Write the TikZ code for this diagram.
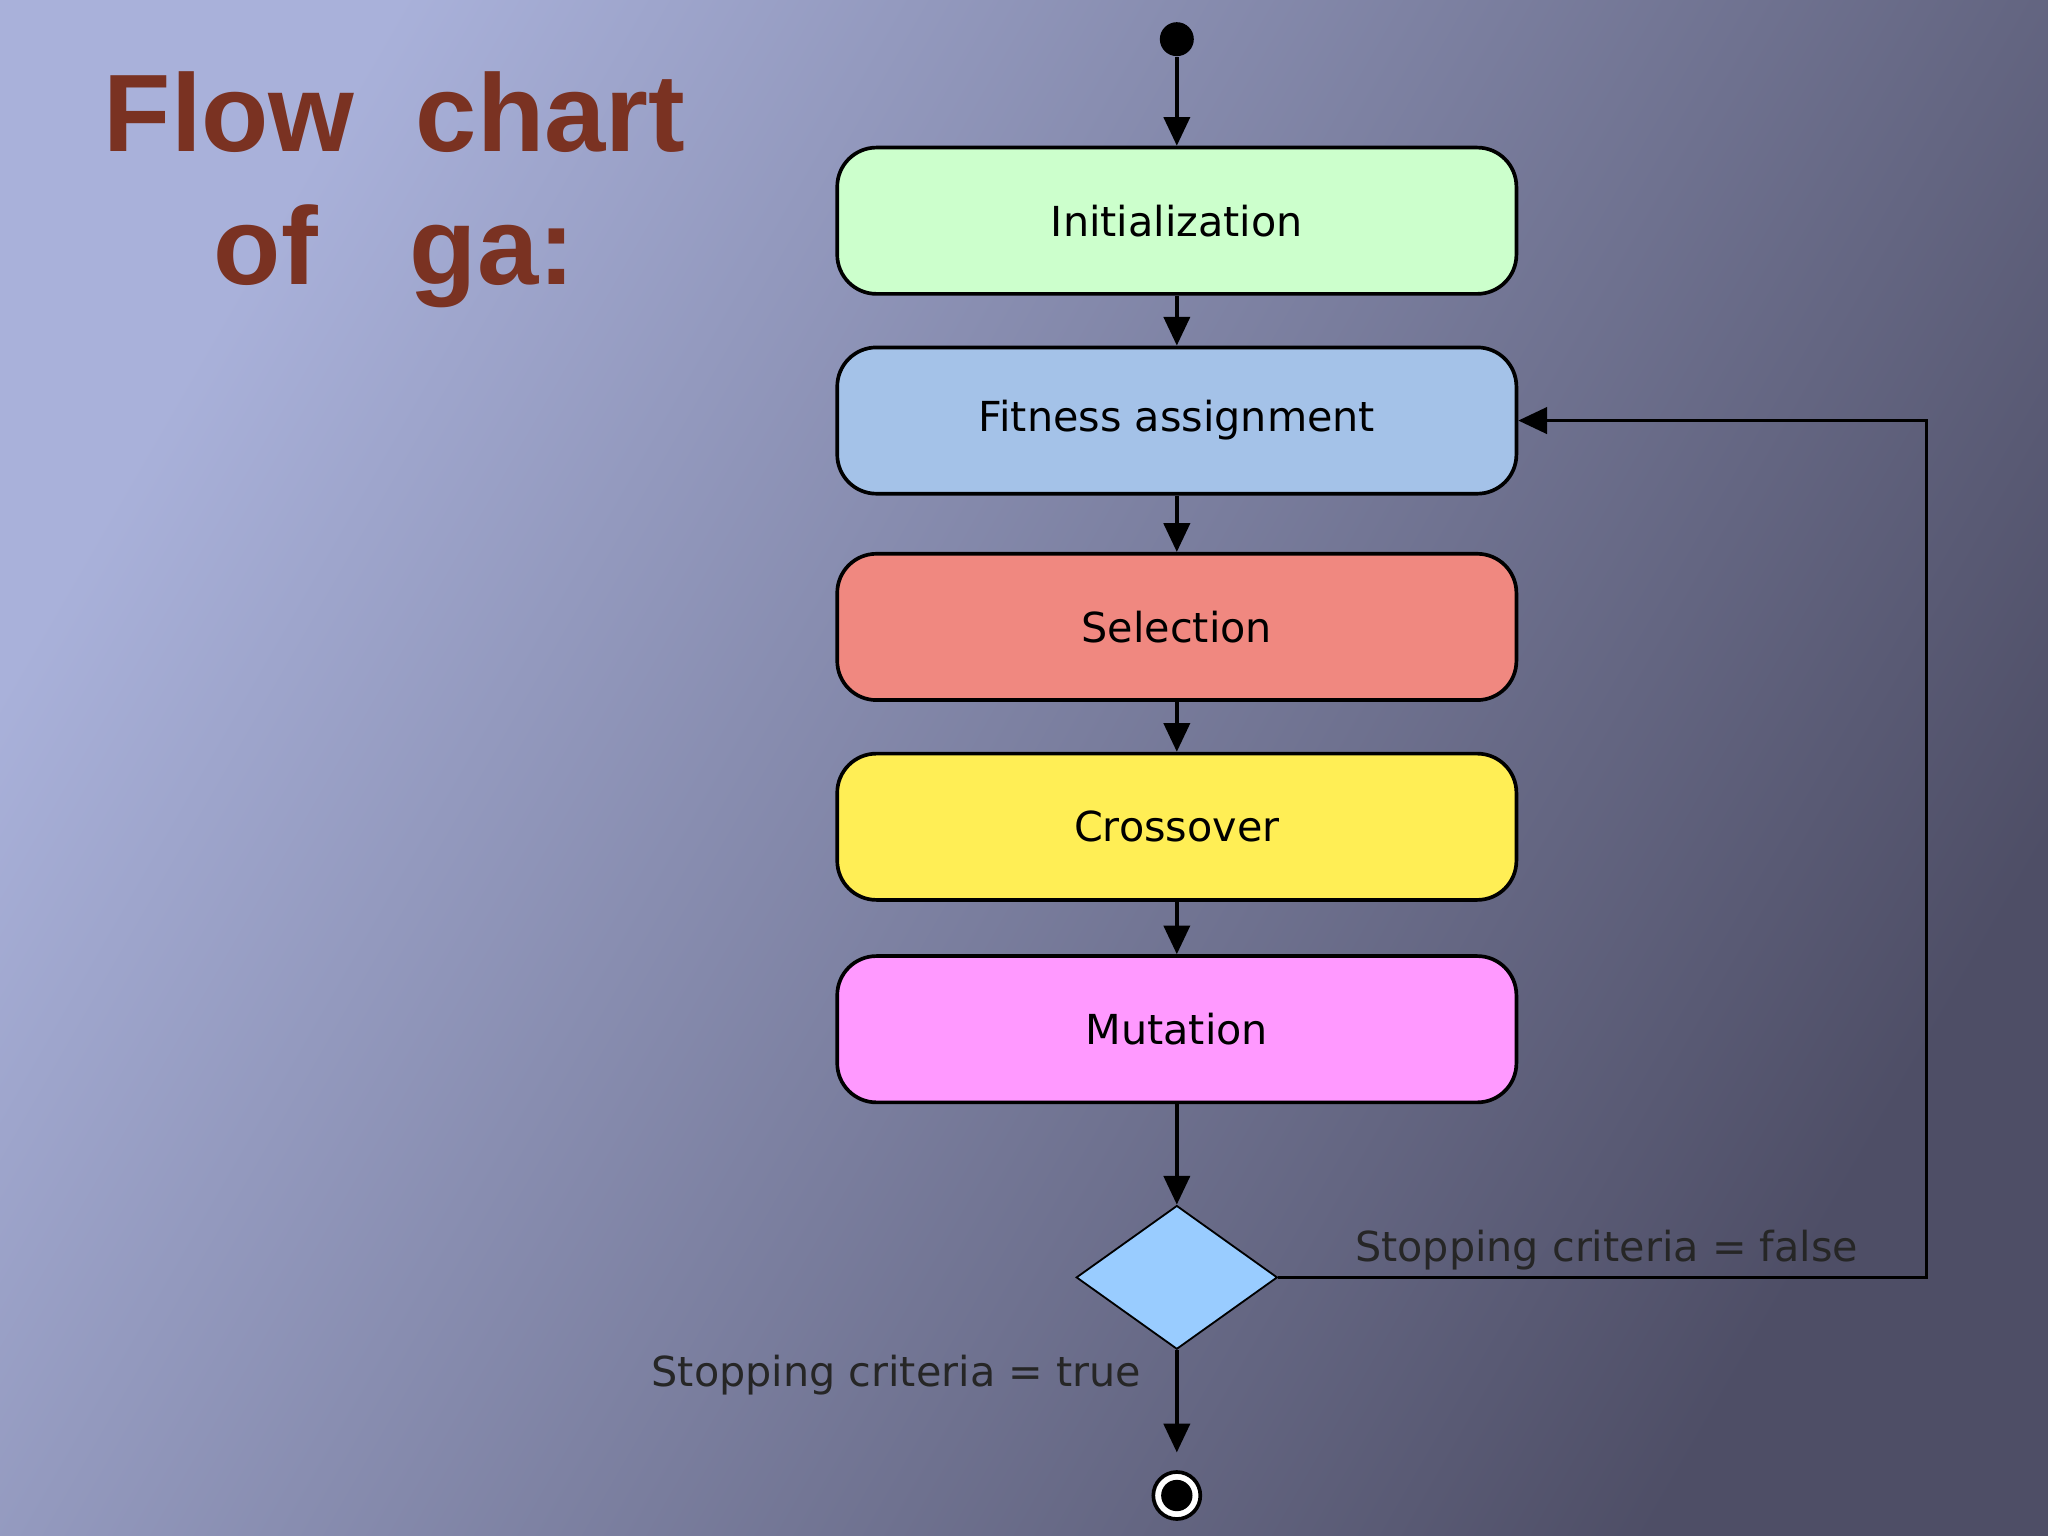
\documentclass[tikz,border=0pt]{standalone}
\usepackage{fontspec}
\setmainfont{DejaVu Sans}
\newfontfamily\titlefont{Liberation Sans}
\usetikzlibrary{positioning,shapes.geometric,arrows.meta,shadows}
\definecolor{initgreen}{HTML}{CCFFCC}
\definecolor{fitblue}{HTML}{A4C2E8}
\definecolor{selred}{HTML}{F08880}
\definecolor{crossyellow}{HTML}{FFEE55}
\definecolor{mutpink}{HTML}{FF99FF}
\definecolor{decblue}{HTML}{99CCFF}
\definecolor{titlebrown}{HTML}{7A3222}
\definecolor{bgleft}{HTML}{A9B1DA}
\definecolor{bgright}{HTML}{4E4E66}
\tikzset{
  stepbox/.style={draw=black, thick, rounded corners=0.3cm, minimum width=5.2cm,
    minimum height=1.12cm, font=\fontsize{9}{11}\selectfont},
  flow/.style={-{Triangle[length=0.22cm,width=0.2cm]}, thick},
  crit/.style={font=\fontsize{9}{11}\selectfont, text=black!85}
}
\begin{document}
\begin{tikzpicture}
    % Background
    \shade[left color=bgleft, right color=bgright, shading angle=60] (0,0) rectangle (15.68,-11.76);
    \useasboundingbox (0,0) rectangle (15.68,-11.76);

    % Title
    \node[font=\titlefont\bfseries\fontsize{24}{29}\selectfont, text=titlebrown, align=center]
      (title) at (3.02,-1.45) {Flow\ \ chart\\of\ \ \ ga:};

    % Start
    \node[circle, fill=black, minimum size=0.26cm, inner sep=0pt] (start) at (9.01,-0.30) {};

    % Steps
    \node[stepbox, fill=initgreen] (init) at (9.01,-1.69) {Initialization};
    \node[stepbox, fill=fitblue] (fit) at (9.01,-3.22) {Fitness assignment};
    \node[stepbox, fill=selred] (sel) at (9.01,-4.80) {Selection};
    \node[stepbox, fill=crossyellow] (cross) at (9.01,-6.33) {Crossover};
    \node[stepbox, fill=mutpink] (mut) at (9.01,-7.88) {Mutation};

    % Decision
    \node[diamond, draw=black, fill=decblue, minimum width=1.54cm, minimum height=1.1cm,
      inner sep=0pt] (dec) at (9.01,-9.78) {};

    % End
    \node[circle, draw=black, thick, fill=white, minimum size=0.36cm, inner sep=0pt] (stop) at (9.01,-11.45) {};
    \node[circle, fill=black, minimum size=0.24cm, inner sep=0pt] at (stop) {};
    \coordinate (stopin) at (9.01,-11.12);
    \coordinate (loop) at (14.75,-9.78);

    % Connectors
    \draw[flow] (start) -- (init);
    \draw[flow] (init) -- (fit);
    \draw[flow] (fit) -- (sel);
    \draw[flow] (sel) -- (cross);
    \draw[flow] (cross) -- (mut);
    \draw[flow] (mut) -- (dec);
    \draw[flow] (dec) -- (stopin);
    \draw[flow] (dec.east) -- (loop) |- (fit.east);

    % Labels
    \node[crit, anchor=east] (ctrue) at (8.86,-10.53) {Stopping criteria = true};
    \node[crit] (cfalse) at (12.30,-9.57) {Stopping criteria = false};
\end{tikzpicture}
\end{document}
